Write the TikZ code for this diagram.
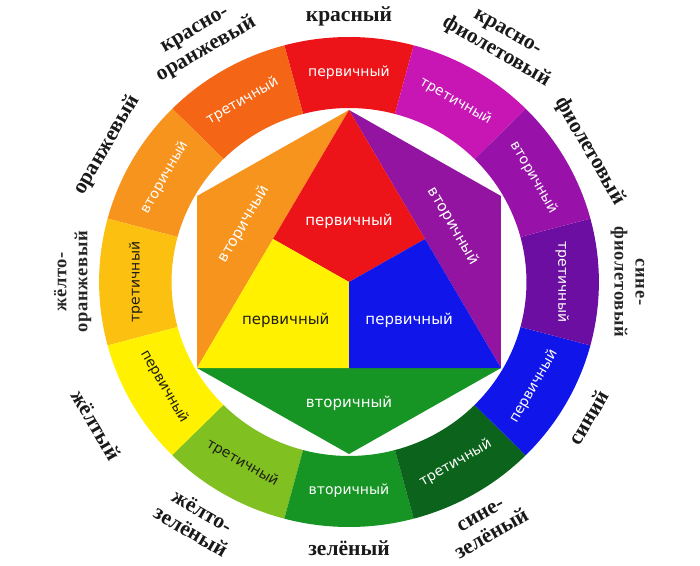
\documentclass[tikz,border=0pt]{standalone}
\usepackage{fontspec}
\usetikzlibrary{calc}
\setmainfont{Liberation Serif}
\newfontfamily\lblfont{DejaVu Sans}
\newfontfamily\sidefont[LetterSpace=4]{Liberation Serif}
\definecolor{cR}{RGB}{236,20,24}
\definecolor{cRO}{RGB}{244,102,22}
\definecolor{cO}{RGB}{247,148,30}
\definecolor{cYO}{RGB}{251,192,16}
\definecolor{cY}{RGB}{255,241,0}
\definecolor{cYG}{RGB}{128,192,32}
\definecolor{cG}{RGB}{22,148,36}
\definecolor{cBG}{RGB}{12,100,28}
\definecolor{cB}{RGB}{16,22,234}
\definecolor{cBV}{RGB}{108,14,162}
\definecolor{cV}{RGB}{152,18,170}
\definecolor{cRV}{RGB}{200,22,180}
\definecolor{cIV}{RGB}{146,20,160}
\definecolor{dark}{RGB}{30,30,20}
\tikzset{
  ringlbl/.style={font=\lblfont\fontsize{14}{16}\selectfont, text=white, inner sep=0pt},
  innerlbl/.style={font=\lblfont\fontsize{15}{17}\selectfont, text=white, inner sep=0pt},
  outlbl/.style={font=\bfseries\fontsize{21.5}{23}\selectfont, text=black!90, align=center, inner sep=0pt},
  sidelbl/.style={font=\sidefont\bfseries\fontsize{18.5}{21}\selectfont, text=black!85, align=center, inner sep=0pt},
}
\begin{document}
\begin{tikzpicture}[x=1pt,y=1pt]
\fill[white] (0,0) rectangle (700,565);
\useasboundingbox (0,0) rectangle (700,565);
\begin{scope}[shift={(349,283)}, xscale=1.02]
  % outer ring
  \foreach \a/\col/\txt/\tc/\rot [count=\i] in {
    90/cR/первичный/white/0,
    120/cRO/третичный/white/30,
    150/cO/вторичный/white/60,
    180/cYO/третичный/dark/90,
    210/cY/первичный/dark/-60,
    240/cYG/третичный/dark/-30,
    270/cG/вторичный/white/0,
    300/cBG/третичный/white/30,
    330/cB/первичный/white/60,
    0/cBV/третичный/white/-90,
    30/cV/вторичный/white/-60,
    60/cRV/третичный/white/-30}
  {
    \fill[\col] (\a-15:245) arc[start angle=\a-15, end angle=\a+15, radius=245]
      -- (\a+15:174) arc[start angle=\a+15, end angle=\a-15, radius=174] -- cycle;
    \node[ringlbl, text=\tc, rotate=\rot] (ring\i) at (\a:209) {\txt};
  }
  % hexagon
  \coordinate (hT) at (90:172);
  \coordinate (hUL) at (150:172);
  \coordinate (hLL) at (210:172);
  \coordinate (hB) at (270:172);
  \coordinate (hLR) at (330:172);
  \coordinate (hUR) at (30:172);
  \coordinate (cc) at (0,0);
  \coordinate (mL) at ($(hT)!0.5!(hLL)$);
  \coordinate (mR) at ($(hT)!0.5!(hLR)$);
  \coordinate (mB) at ($(hLL)!0.5!(hLR)$);
  \fill[cO] (hT) -- (hUL) -- (hLL) -- cycle;
  \fill[cIV] (hT) -- (hUR) -- (hLR) -- cycle;
  \fill[cG] (hLL) -- (hB) -- (hLR) -- cycle;
  \fill[cR] (hT) -- (mL) -- (cc) -- (mR) -- cycle;
  \fill[cY] (mL) -- (hLL) -- (mB) -- (cc) -- cycle;
  \fill[cB] (mR) -- (cc) -- (mB) -- (hLR) -- cycle;
  \node[innerlbl] (inR) at (0,61) {первичный};
  \node[innerlbl, text=dark] (inY) at (-62,-38) {первичный};
  \node[innerlbl] (inB) at (59,-38) {первичный};
  \node[innerlbl, rotate=60] (inO) at (-103,58) {вторичный};
  \node[innerlbl, rotate=-60] (inV) at (102,56) {вторичный};
  \node[innerlbl] (inG) at (0,-121) {вторичный};
  % outer names
  \node[outlbl] (nR) at (90:266) {красный};
  \node[outlbl, rotate=30] (nRO) at (121:281) {красно-\\оранжевый};
  \node[outlbl, rotate=60] (nO) at (150:274) {оранжевый};
  \node[sidelbl, rotate=90] (nYO) at (180:271) {жёлто-\\оранжевый};
  \node[outlbl, rotate=-60] (nY) at (210:286) {жёлтый};
  \node[outlbl, rotate=-30] (nYG) at (238:282) {жёлто-\\зелёный};
  \node[outlbl] (nG) at (270:266) {зелёный};
  \node[outlbl, rotate=30] (nBG) at (299:278) {сине-\\зелёный};
  \node[outlbl, rotate=60] (nB) at (330:271) {синий};
  \node[sidelbl, rotate=-90] (nBV) at (0:273) {сине-\\фиолетовый};
  \node[outlbl, rotate=-60] (nV) at (29:270) {фиолетовый};
  \node[outlbl, rotate=-30] (nRV) at (58:281) {красно-\\фиолетовый};
\end{scope}
\end{tikzpicture}
\end{document}
